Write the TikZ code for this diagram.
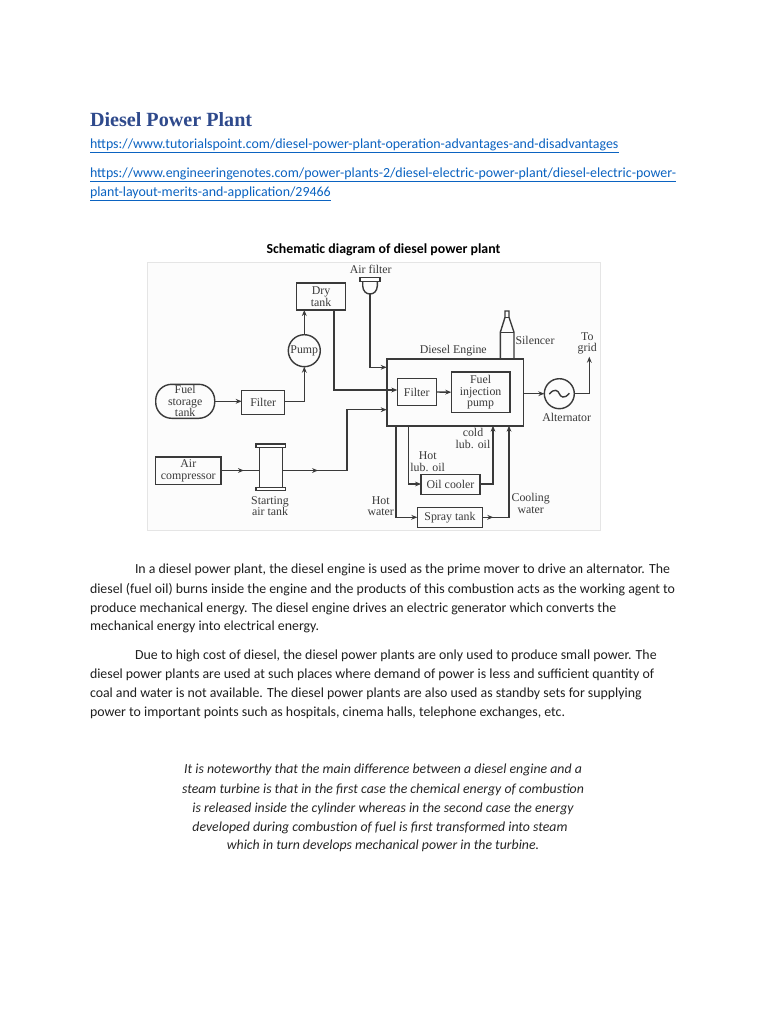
\documentclass[tikz,border=0pt]{standalone}
\usepackage{fontspec}
\setmainfont{Carlito}
\newfontfamily\serifdia{Liberation Serif}
\usetikzlibrary{arrows.meta,decorations.markings,calc}
\definecolor{linkblue}{HTML}{0B63C1}
\definecolor{headblue}{HTML}{2F4A8C}
\definecolor{ink}{HTML}{3A3A3A}
\def\px{0.75pt}
\tikzset{
  every node/.style={inner sep=0pt,outer sep=0pt},
  dia/.style={draw=ink,line width=1.05pt},
  flow/.style={dia,-{Stealth[length=4.5pt,width=3.6pt]}},
  midflow/.style={dia,postaction={decorate},decoration={markings,mark=at position #1 with {\arrow{Stealth[length=4.5pt,width=3.6pt]}}}},
  box/.style={dia,rectangle,fill=none,text=ink,font=\serifdia\fontsize{8.9}{8.6}\selectfont,align=center},
  lab/.style={text=ink,font=\serifdia\fontsize{8.9}{8.6}\selectfont,align=center},
  bodyl/.style={anchor=base west,text=black!88,font=\fontsize{10.39}{12}\selectfont},
  ital/.style={anchor=base,text=black!85,font=\itshape\fontsize{10.36}{12}\selectfont},
  urlt/.style={anchor=base west,text=linkblue,font=\fontsize{10.44}{12}\selectfont},
}
\begin{document}
\begin{tikzpicture}[x=0.75pt,y=-0.75pt]
\useasboundingbox[fill=white] (0,0) rectangle (768,1024);
% page texts
\node[anchor=base west,text=headblue,font=\serifdia\bfseries\fontsize{15.1}{16}\selectfont] (head) at (90,127) {Diesel Power Plant};
\node[urlt] (u1) at (90,148) {\underline{https://www.tutorialspoint.com/diesel-power-plant-operation-advantages-and-disadvantages}};
\node[urlt] (u2) at (90,177) {\underline{https://www.engineeringenotes.com/power-plants-2/diesel-electric-power-plant/diesel-electric-power-}};
\node[urlt] (u3) at (90,196) {\underline{plant-layout-merits-and-application/29466}};
\node[anchor=base,text=black,font=\bfseries\fontsize{10.4}{12}\selectfont] (title) at (383.5,253) {Schematic diagram of diesel power plant};
% panel
\node[draw=black!10,fill=black!1,line width=0.6pt,minimum width=453*\px,minimum height=268*\px] (panel) at (373.5,396) {};
% boxes
\node[box,minimum width=48.6*\px,minimum height=27*\px] (dry) at (321,296.5) {Dry\\tank};
\node[box,circle,minimum size=32*\px] (pump) at (304.3,350.7) {Pump};
\node[box,minimum width=43*\px,minimum height=24*\px] (filterA) at (263.2,402.7) {Filter};
\node[box,rounded corners=16*\px,minimum width=59*\px,minimum height=34*\px] (fuel) at (185.2,401.3) {Fuel\\storage\\tank};
\node[box,minimum width=65.3*\px,minimum height=27.3*\px] (comp) at (188.3,470.6) {Air\\compressor};
\node[minimum width=23.4*\px,minimum height=40*\px] (tank) at (271,467.3) {};
\draw[dia] (tank.north west) -- (tank.south west) (tank.north east) -- (tank.south east);
\node[dia,fill=white,minimum width=29.7*\px,minimum height=3.4*\px] (plateT) at (270.8,445.7) {};
\node[dia,fill=white,minimum width=29.7*\px,minimum height=3.4*\px] (plateB) at (270.8,489) {};
\node[lab] (tanklab) at (270,506) {Starting\\air tank};
\node[box,line width=1.2pt,minimum width=136.6*\px,minimum height=67*\px] (engine) at (455,392.2) {};
\node[box,minimum width=39*\px,minimum height=26.6*\px] (filterB) at (416.8,392) {Filter};
\node[box,minimum width=58.7*\px,minimum height=40.3*\px] (inj) at (480.6,392.2) {Fuel\\injection\\pump};
\node[box,circle,minimum size=30*\px] (alt) at (559.3,393.7) {};
\draw[dia] ($(alt.center)+(-10,0.5)$) .. controls ($(alt.center)+(-5,-6)$) and ($(alt.center)+(-1,-3)$) .. ($(alt.center)+(0,0)$) .. controls ($(alt.center)+(1,3)$) and ($(alt.center)+(5,6)$) .. ($(alt.center)+(10,-0.5)$);
\node[box,minimum width=59*\px,minimum height=20*\px] (cooler) at (450.5,484.3) {Oil cooler};
\node[box,minimum width=65.4*\px,minimum height=20.4*\px] (spray) at (450,517.5) {Spray tank};
% air filter symbol
\node[dia,fill=white,minimum width=20*\px,minimum height=3.6*\px] (afplate) at (370,279.5) {};
\draw[dia] (362.7,281.3) -- (362.7,286) .. controls (363,291) and (366,294) .. (370,294) .. controls (374,294) and (377,291) .. (377.3,286) -- (377.3,281.3);
\coordinate (afout) at (370,294);
% silencer
\draw[dia] (500.3,358.7) -- (500.3,332.3) -- (505,317.3) -- (505,311) -- (509,311) -- (509,317.3) -- (514,332.3) -- (514,358.7);
\draw[dia] (500.3,332.3) -- (514,332.3) (505,317.3) -- (509,317.3);
% labels
\node[lab] (l1) at (370.7,269.3) {Air filter};
\node[lab] (l2) at (453.3,351) {Diesel Engine};
\node[lab] (l3) at (535,340) {Silencer};
\node[lab] (l4) at (587.3,343.5) {To\\grid};
\node[lab] (l5) at (566.7,417.3) {Alternator};
\node[lab] (l6) at (473,438.5) {cold\\lub. oil};
\node[lab] (l7) at (427.7,461.7) {Hot\\lub. oil};
\node[lab] (l8) at (380.7,506) {Hot\\water};
\node[lab] (l9) at (530.7,503.3) {Cooling\\water};
% helper coordinates
\coordinate (c1) at (334,390);
\coordinate (c2) at (347,409.7);
\coordinate (c3) at (370,367.3);
\coordinate (c4) at (408.3,484);
\coordinate (c5) at (396,517.3);
\coordinate (c6) at (493,484);
\coordinate (c7) at (509,517.3);
\coordinate (c8) at (589.3,356.7);
\coordinate (c9) at (347,470.5);
% connectors
\draw[flow] (fuel.east) -- (filterA.west |- fuel.east);
\draw[flow] (filterA.east |- fuel.east) -| (pump.south);
\draw[flow] (pump.north) -- (pump.north |- dry.south);
\draw[flow] (dry.south -| c1) |- (filterB.west |- c1);
\draw[flow] (afout) |- (engine.west |- c3);
\draw[midflow=0.6] (comp.east |- c9) -- (tank.west |- c9);
\draw[midflow=0.55] (tank.east |- c9) -- (c9);
\draw[flow] (c9) |- (engine.west |- c2);
\draw[flow] (filterB.east) -- (inj.west);
\draw[flow] (engine.east |- alt) -- (alt.west);
\draw[flow] (alt.east) -| (c8);
\draw[flow] (engine.south -| c4) |- (cooler.west |- c4);
\draw[flow] (engine.south -| c5) |- (spray.west |- c5);
\draw[flow] (cooler.east |- c6) -| (engine.south -| c6);
\draw[midflow=0.09,-{Stealth[length=4.5pt,width=3.6pt]}] (spray.east |- c7) -| (engine.south -| c7);
% body
\node[bodyl] (p1) at (135,573) {In a diesel power plant, the diesel engine is used as the prime mover to drive an alternator. The};
\node[bodyl] (p2) at (90,593) {diesel (fuel oil) burns inside the engine and the products of this combustion acts as the working agent to};
\node[bodyl] (p3) at (90,612) {produce mechanical energy. The diesel engine drives an electric generator which converts the};
\node[bodyl] (p4) at (90,630) {mechanical energy into electrical energy.};
\node[bodyl] (q1) at (135,659) {Due to high cost of diesel, the diesel power plants are only used to produce small power. The};
\node[bodyl] (q2) at (90,678) {diesel power plants are used at such places where demand of power is less and sufficient quantity of};
\node[bodyl] (q3) at (90,697) {coal and water is not available. The diesel power plants are also used as standby sets for supplying};
\node[bodyl] (q4) at (90,716) {power to important points such as hospitals, cinema halls, telephone exchanges, etc.};
\node[ital] (i1) at (383,773) {It is noteworthy that the main difference between a diesel engine and a};
\node[ital] (i2) at (383,793) {steam turbine is that in the first case the chemical energy of combustion};
\node[ital] (i3) at (383,812) {is released inside the cylinder whereas in the second case the energy};
\node[ital] (i4) at (380,831) {developed during combustion of fuel is first transformed into steam};
\node[ital] (i5) at (383,849) {which in turn develops mechanical power in the turbine.};
\end{tikzpicture}
\end{document}
